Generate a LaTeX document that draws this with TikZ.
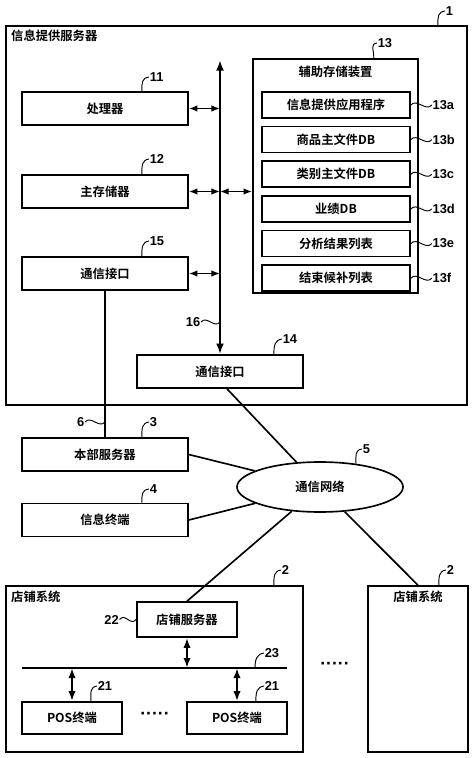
\documentclass[tikz,border=0pt]{standalone}
\usepackage{fontspec}
\setmainfont{Liberation Sans}
\newfontfamily\cjk{Noto Sans CJK SC}[BoldFont={Noto Sans CJK SC Bold}]
\usetikzlibrary{arrows.meta, positioning, shapes.geometric}
\tikzset{%
	frame/.style={draw, rectangle, line width=1.4pt, inner sep=0mm},
	box/.style={draw, rectangle, line width=1.4pt, inner sep=0mm,%
		minimum width=4.98cm, minimum height=0.99cm, font=\cjk\bfseries\fontsize{10.5}{12}\selectfont},
	sub/.style={box, minimum width=4.44cm, minimum height=0.78cm},
	small/.style={box, minimum width=3cm, minimum height=1cm},
	title/.style={inner sep=0mm, font=\cjk\bfseries\fontsize{10.5}{12}\selectfont},
	lbl/.style={inner sep=0.5pt, font=\bfseries\fontsize{11}{12}\selectfont},
	dots/.style={inner sep=0mm, font=\bfseries\fontsize{15}{16}\selectfont},
	lead/.style={line width=0.8pt},
	link/.style={line width=1.4pt},
	dbl/.style={{Latex[length=2.6mm,width=2mm]}-{Latex[length=2.6mm,width=2mm]}, line width=1.4pt},
	sdbl/.style={{Latex[length=3mm,width=2.2mm]}-{Latex[length=3mm,width=2.2mm]}, line width=1.8pt},
	bus/.style={{Latex[length=3.2mm,width=2.4mm]}-{Latex[length=3.2mm,width=2.4mm]}, line width=1.9pt}
}
\begin{document}
\begin{tikzpicture}[x=0.03cm, y=-0.03cm]
	\useasboundingbox (0,0) rectangle (474,758);

	% information server
	\node[frame, minimum width=13.83cm, minimum height=11.37cm] (srv) at (236.5,215.5) {};
	\node[title, anchor=west] (tsrv) at (11,36) {信息提供服务器};
	\node[box] (b11) at (105,108.5) {处理器};
	\node[box] (b12) at (105,191.5) {主存储器};
	\node[box] (b15) at (105,273.5) {通信接口};
	\node[box] (b14) at (220,371.5) {通信接口};

	% auxiliary storage
	\node[frame, minimum width=4.95cm, minimum height=7.02cm] (b13) at (335.5,176) {};
	\node[title] (t13) at (335.5,72) {辅助存储装置};
	\node[sub] (b13a) at (336,105) {信息提供应用程序};
	\node[sub, below=0.21cm of b13a] (b13b) {商品主文件DB};
	\node[sub, below=0.21cm of b13b] (b13c) {类别主文件DB};
	\node[sub, below=0.21cm of b13c] (b13d) {业绩DB};
	\node[sub, below=0.21cm of b13d] (b13e) {分析结果列表};
	\node[sub, below=0.21cm of b13e] (b13f) {结束候补列表};

	% bus
	\coordinate (bustop) at (220,60);
	\draw[bus] (bustop) -- (b14);
	\draw[dbl] (b11) -- (b11 -| bustop);
	\draw[dbl] (b12) -- (b12 -| bustop);
	\draw[dbl] (b12 -| bustop) -- (b12 -| b13.west);
	\draw[dbl] (b15) -- (b15 -| bustop);

	% head office, terminal, network
	\node[box] (b3) at (105,454.5) {本部服务器};
	\node[box] (b4) at (105,520) {信息终端};
	\node[ellipse, draw, line width=1.4pt, inner sep=0mm, minimum width=4.98cm, minimum height=1.5cm,%
		font=\cjk\bfseries\fontsize{10.5}{12}\selectfont] (net) at (320,487) {通信网络};

	\draw[link] (b15) -- (b3);
	\draw[link] ([xshift=0.21cm]b14.south) -- (net);
	\draw[link] (b3.east) -- (net);
	\draw[link] (b4.east) -- (net);

	% store systems
	\node[frame, minimum width=8.91cm, minimum height=4.98cm] (st1) at (154.5,669) {};
	\node[title, anchor=west] (tst1) at (11,597) {店铺系统};
	\node[frame, minimum width=3cm, minimum height=4.98cm] (st2) at (418,669) {};
	\node[title] (tst2) at (418,597) {店铺系统};
	\node[small, minimum height=1.05cm] (ss) at (187,619.5) {店铺服务器};
	\node[small, minimum height=0.96cm] (pos1) at (72,718) {POS终端};
	\node[small, minimum height=0.96cm] (pos2) at (237,718) {POS终端};
	\node[dots] (dots1) at (155,716) {·····};
	\node[dots] (dots2) at (335,666) {·····};

	\draw[link] (net) -- (ss.north);
	\draw[link] (net) -- (st2.north);

	\coordinate (busl) at (22,668);
	\coordinate (busr) at (287,668);
	\draw[link] (busl) -- (busr);
	\draw[sdbl] (ss) -- (ss |- busl);
	\draw[sdbl] (pos1 |- busl) -- (pos1);
	\draw[sdbl] (pos2 |- busl) -- (pos2);

	% reference numbers
	\node[lbl, anchor=west] (l1) at (445,11) {1};
	\node[lbl, anchor=west] (l13) at (377,43) {13};
	\node[lbl, anchor=west] (l11) at (149,77) {11};
	\node[lbl, anchor=west] (l12) at (149,159) {12};
	\node[lbl, anchor=west] (l15) at (149,241) {15};
	\node[lbl, anchor=west] (l14) at (282,339) {14};
	\node[lbl, anchor=west] (l3) at (149,422) {3};
	\node[lbl, anchor=west] (l4) at (149,489) {4};
	\node[lbl, anchor=west] (l5) at (362,449) {5};
	\node[lbl, anchor=west] (l2a) at (281,570) {2};
	\node[lbl, anchor=west] (l2b) at (446,570) {2};
	\node[lbl, anchor=west] (l23) at (264,653) {23};
	\node[lbl, anchor=west] (l21a) at (97,686) {21};
	\node[lbl, anchor=west] (l21b) at (264,686) {21};
	\node[lbl, anchor=east] (l16) at (201,322) {16};
	\node[lbl, anchor=east] (l6) at (85,422) {6};
	\node[lbl, anchor=east] (l22) at ([xshift=-0.5cm]ss.west) {22};
	\node[lbl, anchor=west] (l13a) at ([xshift=0.63cm]b13a.east) {13a};
	\node[lbl, anchor=west] (l13b) at ([xshift=0.63cm]b13b.east) {13b};
	\node[lbl, anchor=west] (l13c) at ([xshift=0.63cm]b13c.east) {13c};
	\node[lbl, anchor=west] (l13d) at ([xshift=0.63cm]b13d.east) {13d};
	\node[lbl, anchor=west] (l13e) at ([xshift=0.63cm]b13e.east) {13e};
	\node[lbl, anchor=west] (l13f) at ([xshift=0.63cm]b13f.east) {13f};

	\draw[lead] ([xshift=-0.9cm]srv.north east) .. controls +(0,-9) and +(-7,1) .. (l1.west);
	\draw[lead] ([xshift=-1.35cm]b13.north east) .. controls +(0,-9) and +(-7,1) .. (l13.west);
	\draw[lead] ([xshift=-1.41cm]b11.north east) .. controls +(0,-9) and +(-7,1) .. (l11.west);
	\draw[lead] ([xshift=-1.41cm]b12.north east) .. controls +(0,-9) and +(-7,1) .. (l12.west);
	\draw[lead] ([xshift=-1.41cm]b15.north east) .. controls +(0,-9) and +(-7,1) .. (l15.west);
	\draw[lead] ([xshift=-0.9cm]b14.north east) .. controls +(0,-9) and +(-7,1) .. (l14.west);
	\draw[lead] ([xshift=-1.41cm]b3.north east) .. controls +(0,-9) and +(-7,1) .. (l3.west);
	\draw[lead] ([xshift=-1.41cm]b4.north east) .. controls +(0,-9) and +(-7,1) .. (l4.west);
	\draw[lead] (net.33) .. controls +(0,-9) and +(-7,1) .. (l5.west);
	\draw[lead] ([xshift=-0.9cm]st1.north east) .. controls +(0,-9) and +(-7,1) .. (l2a.west);
	\draw[lead] ([xshift=-0.9cm]st2.north east) .. controls +(0,-9) and +(-7,1) .. (l2b.west);
	\draw[lead] ([xshift=-0.96cm]busr) .. controls +(0,-9) and +(-7,1) .. (l23.west);
	\draw[lead] ([xshift=-0.96cm]pos1.north east) .. controls +(0,-9) and +(-7,1) .. (l21a.west);
	\draw[lead] ([xshift=-0.96cm]pos2.north east) .. controls +(0,-9) and +(-7,1) .. (l21b.west);

	\draw[lead] (l16.east) .. controls +(6,-7) and +(-6,7) .. (l16 -| bustop);
	\draw[lead] (l6.east) .. controls +(6,-7) and +(-6,7) .. (l6 -| b3);
	\draw[lead] (l22.east) .. controls +(6,-7) and +(-6,7) .. (ss.west);
	\draw[lead] (b13a.east) .. controls +(6,-7) and +(-6,7) .. (l13a.west);
	\draw[lead] (b13b.east) .. controls +(6,-7) and +(-6,7) .. (l13b.west);
	\draw[lead] (b13c.east) .. controls +(6,-7) and +(-6,7) .. (l13c.west);
	\draw[lead] (b13d.east) .. controls +(6,-7) and +(-6,7) .. (l13d.west);
	\draw[lead] (b13e.east) .. controls +(6,-7) and +(-6,7) .. (l13e.west);
	\draw[lead] (b13f.east) .. controls +(6,-7) and +(-6,7) .. (l13f.west);
\end{tikzpicture}
\end{document}
